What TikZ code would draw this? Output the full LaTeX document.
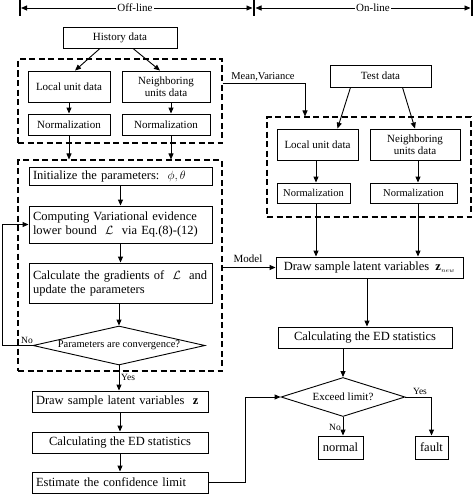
\documentclass[tikz,border=0pt]{standalone}
\usepackage{fontspec}
\setmainfont{Liberation Serif}
\usetikzlibrary{arrows.meta,shapes.geometric,calc}
\newcommand\FBig{\fontsize{12.5}{14}\selectfont}
\newcommand\FMid{\fontsize{11}{12.5}\selectfont}
\newcommand\FSm{\fontsize{10.5}{12}\selectfont}
\newcommand\FTiny{\fontsize{9.5}{11}\selectfont}
\begin{document}
\begin{tikzpicture}[x=1pt,y=-1pt,
  box/.style={draw, line width=0.9pt, inner sep=0pt},
  lbox/.style={box, align=left, inner xsep=4pt},
  dbox/.style={draw, line width=1.1pt, dash pattern=on 6pt off 3.5pt, inner sep=0pt},
  dec/.style={draw, line width=0.9pt, shape=diamond, inner sep=0pt},
  arr/.style={line width=0.9pt, -{Triangle[length=6pt,width=5pt]}},
  ln/.style={line width=0.9pt},
  lab/.style={inner sep=1pt}
]
\useasboundingbox (0,0) rectangle (474,495);

% header
\coordinate (h1) at (20,0);
\coordinate (h2) at (254,0);
\coordinate (h3) at (472,0);
\draw[line width=1.3pt] (h1) -- ++(0,16);
\draw[line width=1.3pt] (h2) -- ++(0,16);
\draw[line width=1.6pt] (h3) -- ++(0,16);
\draw[line width=0.9pt, {Triangle[length=6pt,width=5pt]}-{Triangle[length=6pt,width=5pt]}] ([shift={(1,8)}]h1) -- ([shift={(-1.5,8)}]h2);
\draw[line width=0.9pt, {Triangle[length=6pt,width=5pt]}-{Triangle[length=6pt,width=5pt]}] ([shift={(1.5,8)}]h2) -- ([shift={(-1.5,8)}]h3);
\node[fill=white, inner xsep=1pt, inner ysep=0pt, font=\FMid] (off) at (135,8) {Off-line};
\node[fill=white, inner xsep=1pt, inner ysep=0pt, font=\FMid] (on) at (373,8) {On-line};

% left: history
\node[box, minimum width=114, minimum height=21, font=\FMid] (hist) at (120,37.5) {History data};
\node[dbox, minimum width=204, minimum height=84] (g1) at (120,101) {};
\node[box, minimum width=82, minimum height=31, font=\FMid] (la) at (69,86.5) {Local unit data};
\node[box, minimum width=88, minimum height=31, font=\FMid, align=center] (lb) at (166,86.5) {Neighboring\\units data};
\node[box, minimum width=82, minimum height=21, font=\FMid] (na) at (69,124.5) {Normalization};
\node[box, minimum width=88, minimum height=21, font=\FMid] (nb) at (166,124.5) {Normalization};

% left: training
\node[dbox, minimum width=204, minimum height=211] (g2) at (120,265.5) {};
\node[lbox, text width=175, minimum height=18, font=\FBig] (init) at (120.5,176) {Initialize the parameters:\ \ $\phi,\theta$};
\node[lbox, text width=175, minimum height=37, font=\FBig] (comp) at (120.5,224.5) {Computing Variational evidence\\lower bound \ $\mathcal{L}$\ \ via Eq.(8)-(12)};
\node[lbox, text width=175, minimum height=40, font=\FBig] (calc) at (120.5,283) {Calculate the gradients of \ $\mathcal{L}$\ \ and\\update the parameters};
\node[dec, minimum width=172, minimum height=39, aspect=4.4, font=\FSm] (dia) at (119,345.5) {Parameters are convergence?};
\node[lbox, text width=168, minimum height=21, font=\FBig] (z) at (120,401.5) {Draw sample latent variables \ $\mathbf{z}$};
\node[box, minimum width=176, minimum height=21, font=\FBig] (ed) at (120,442.5) {Calculating the ED statistics};
\node[lbox, text width=168, minimum height=21, font=\FBig] (est) at (120,482.5) {Estimate the confidence limit};

% right: test
\node[box, minimum width=101, minimum height=22, font=\FMid] (test) at (380.5,76) {Test data};
\node[dbox, minimum width=204, minimum height=100] (g3) at (369,167) {};
\node[box, minimum width=81, minimum height=31, font=\FMid] (ra) at (317.5,144.5) {Local unit data};
\node[box, minimum width=90, minimum height=31, font=\FMid, align=center] (rb) at (415,144.5) {Neighboring\\units data};
\node[box, minimum width=73, minimum height=20, font=\FSm] (rna) at (313.5,193) {Normalization};
\node[box, minimum width=87, minimum height=20, font=\FSm] (rnb) at (413.5,193) {Normalization};
\node[box, minimum width=187, minimum height=21, font=\FBig] (new) at (369.5,267.5) {Draw sample latent variables \ $\mathbf{z}_{\scriptscriptstyle new}$};
\node[box, minimum width=174, minimum height=21, font=\FBig] (red) at (365,337.5) {Calculating the ED statistics};
\node[dec, minimum width=124, minimum height=39, aspect=3.2, font=\FMid] (dia2) at (343,397) {Exceed limit?};
\node[box, minimum width=45, minimum height=23, font=\FBig] (normal) at (340.5,447.5) {normal};
\node[box, minimum width=33, minimum height=23, font=\FBig] (fault) at (431.5,447.5) {fault};

% connectors left
\draw[arr] ([xshift=-20]hist.south) -- ([xshift=6]la.north);
\draw[arr] ([xshift=13]hist.south) -- ([xshift=-6]lb.north);
\draw[arr] (la.south) -- (na.north);
\draw[arr] ([xshift=5]lb.south) -- ([xshift=5]nb.north);
\draw[arr] (na.south) -- (na.south |- g2.north);
\draw[arr] ([xshift=5]nb.south) -- ([xshift=5]nb.south |- g2.north);
\draw[arr] (init.south) -- (comp.north);
\draw[arr] (comp.south) -- (calc.north);
\draw[arr] (dia.north |- calc.south) -- (dia.north);
\coordinate (fb) at (2,224.5);
\draw[arr] (dia.west) -| (fb) -- (comp.west);
\node[lab, font=\FTiny, anchor=south] (no1) at (27,345) {No};
\draw[arr] (dia.south) -- (dia.south |- z.north);
\node[lab, font=\FTiny, anchor=west] (yes1) at (120,377) {Yes};
\draw[arr] (z.south) -- (ed.north);
\draw[arr] (ed.south) -- (est.north);

% cross connectors
\coordinate (mv) at (305,83);
\draw[arr] (g1.east |- mv) -- (mv) -- (mv |- g3.north);
\node[lab, font=\FSm, anchor=south] (mvl) at (263,82) {Mean,Variance};
\draw[arr] (g2.east |- new.west) -- (new.west);
\node[lab, font=\FMid, anchor=south] (mdl) at (248,264) {Model};
\coordinate (ec) at (245,397);
\draw[arr] (est.east) -| (ec) -- (dia2.west);

% connectors right
\draw[arr] ([xshift=-30]test.south) -- ([xshift=20]ra.north);
\draw[arr] ([xshift=22]test.south) -- (rb.north);
\draw[arr] ([xshift=-1.5]ra.south) -- ([xshift=2.5]rna.north);
\draw[arr] ([xshift=3]rb.south) -- ([xshift=4.5]rnb.north);
\draw[arr] ([xshift=2.5]rna.south) -- ([xshift=2.5]rna.south |- new.north);
\draw[arr] ([xshift=4.5]rnb.south) -- ([xshift=4.5]rnb.south |- new.north);
\draw[arr] ([xshift=-2.5]new.south) -- ([xshift=-2.5]new.south |- red.north);
\draw[arr] (dia2.north |- red.south) -- (dia2.north);
\draw[arr] (dia2.east) -| (fault.north);
\node[lab, font=\FTiny, anchor=south] (yes2) at (420,396) {Yes};
\draw[arr] (dia2.south) -- (dia2.south |- normal.north);
\node[lab, font=\FTiny, anchor=east] (no2) at (342,427) {No};
\end{tikzpicture}
\end{document}
